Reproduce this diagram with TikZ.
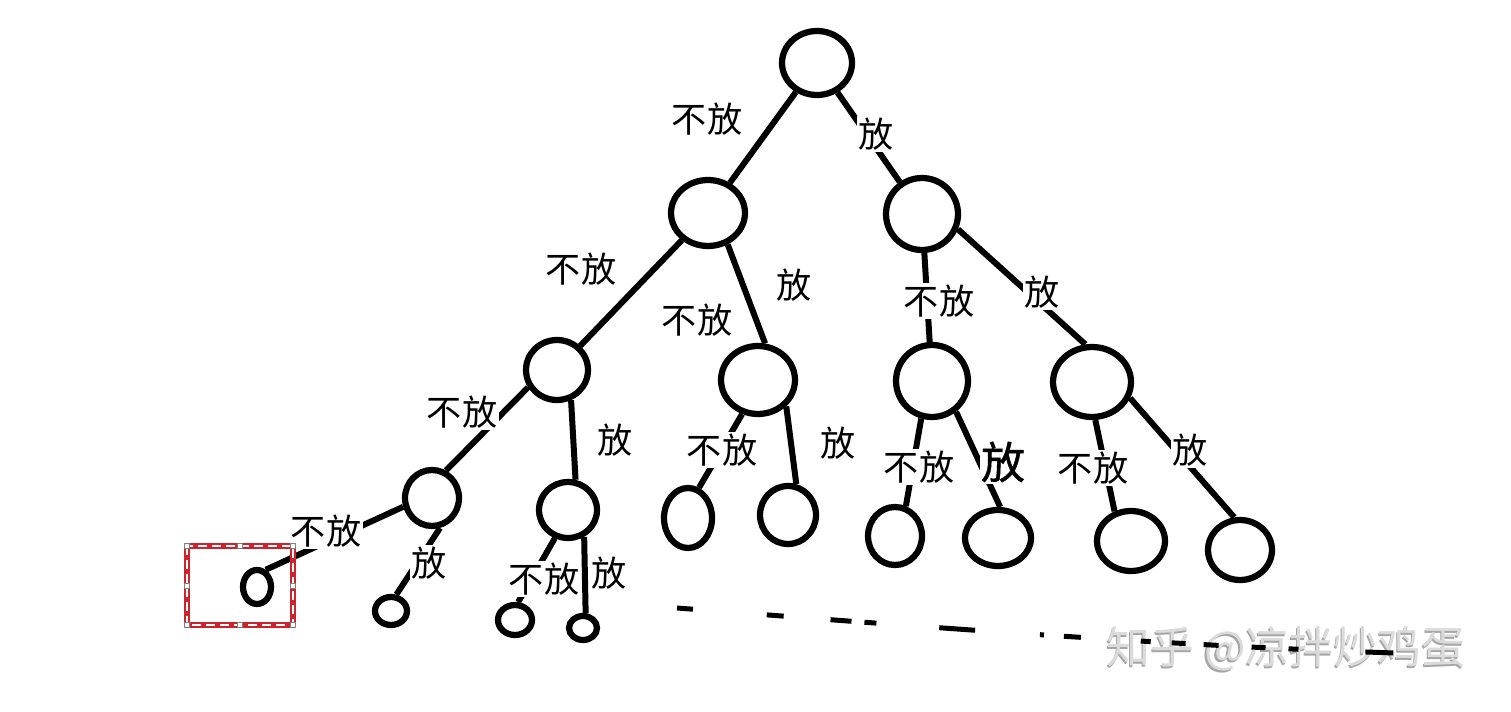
\documentclass[tikz,border=0pt]{standalone}
\usepackage{fontspec}
\newfontfamily\cjk{Noto Sans CJK SC}
\newfontfamily\cjkbold[FakeBold=1]{Noto Sans CJK SC}
\usetikzlibrary{shapes.geometric}
\definecolor{selred}{RGB}{205,35,45}
\begin{document}
\begin{tikzpicture}[x=0.02cm,y=-0.02cm]
        \tikzset{
          vtx/.style 2 args={draw,ellipse,line width=0.125cm,inner sep=0mm,
            minimum width=#1cm,minimum height=#2cm},
          link/.style={line width=0.12cm},
          lbl/.style={font=\cjk\fontsize{20}{24}\selectfont,fill=white,inner sep=0.3mm},
          wm/.style={font=\cjk\fontsize{25}{30}\selectfont,inner sep=0mm},
        }
        \useasboundingbox (0,0) rectangle (1511,712);
        %TREE NODES
        \foreach \n/\x/\y/\w/\h in {r/817/63/1.40/1.28,
            a/708/213/1.48/1.32, b/922/214/1.44/1.44,
            aa/557/370/1.24/1.20, ab/758/380/1.48/1.36,
            ba/932/381/1.44/1.44, bb/1092/382/1.56/1.40,
            aaa/432/498/1.08/1.12, aab/568/510/1.16/1.12,
            aba/688/518/0.96/1.20, abb/788/515/1.12/1.16,
            baa/895/536/1.08/1.16, bab/998/538/1.32/1.12,
            bba/1131/541/1.36/1.20, bbb/1240/550/1.28/1.20,
            aaaa/257/587/0.56/0.68, aaab/391/611/0.64/0.56,
            aaba/515/620/0.68/0.60, aabb/583/628/0.56/0.48}{
            \node[vtx={\w}{\h}] (\n) at (\x,\y) {};
        }
        %BRANCHES
        \foreach \p/\q in {r/a, r/b, a/aa, a.-58/ab.79, b/ba, b.-23/bb.100,
            aa.211/aaa.63, aa.-65/aab.76, ab.245/aba.70, ab.-43/abb.75,
            ba.254/baa.70, ba.-52/bab.86, bb.-85/bba.119, bb.-23/bbb.100,
            aaa.197/aaaa.63, aaa.-75/aaab.72, aab.245/aaba.80, aab.-59/aabb.80}{
            \draw[link] (\p) -- (\q);
        }
        %LABELS
        \foreach \x/\y/\t [count=\i] in {707/119/不放, 876/134/放,
            581/269/不放, 794/285/放, 697/320/不放, 939/301/不放, 1042/292/放,
            462/412/不放, 615/440/放, 722/450/不放, 838/443/放,
            919/467/不放, 1093/468/不放, 1190/450/放,
            326/531/不放, 429/563/放, 544/579/不放, 609/573/放}{
            \node[lbl] (t\i) at (\x,\y) {\t};
        }
        \node[lbl,font=\cjkbold\fontsize{25}{30}\selectfont] (tbig) at (1003,462) {放};
        %SELECTION BOX
        \draw[selred,line width=0.11cm] (187,546) rectangle (293,625);
        \draw[white,line width=0.025cm,dash pattern=on 0.18cm off 0.1cm] (187,546) rectangle (293,625);
        \foreach \x/\y in {187/546,240/546,293/546,187/585.5,293/585.5,187/625,240/625,293/625}{
            \draw[gray,fill=white,line width=0.2mm] (\x-2.5,\y-2.5) rectangle ++(5,5);
        }
        %WATERMARK
        \node[wm,text=gray!70] (wms) at (1284.5,650.5) {知乎 @凉拌炒鸡蛋};
        \node[wm,text=gray!28] (wmk) at (1286,649) {知乎 @凉拌炒鸡蛋};
        %DASHED BOTTOM
        \draw[line width=0.1cm,dash pattern=on 0.32cm off 1.48cm on 0.34cm off 0.94cm on 0.42cm off 0.26cm
            on 0.24cm off 1.26cm on 0.72cm off 1.30cm on 0.08cm off 0.40cm on 0.34cm off 1.20cm
            on 0.20cm off 0.42cm on 0.28cm off 0.36cm on 0.30cm off 0.66cm on 0.28cm off 0.46cm
            on 0.20cm off 1.34cm on 0.56cm off 2cm]
          (677,608) .. controls (900,625) and (1150,645) .. (1395,653);
\end{tikzpicture}
\end{document}
